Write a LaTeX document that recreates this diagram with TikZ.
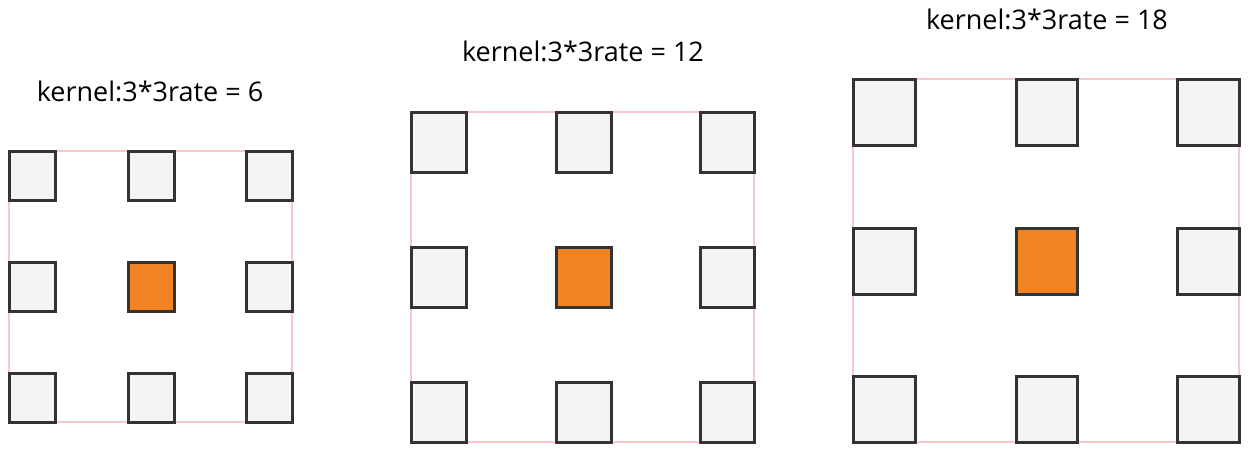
\documentclass[tikz,border=0pt]{standalone}
\usepackage{fontspec}
\setmainfont{Open Sans}
\definecolor{cellgray}{HTML}{F4F4F4}
\definecolor{cellorange}{HTML}{F28322}
\definecolor{framepink}{HTML}{F8C8CC}
\definecolor{celledge}{HTML}{333333}
\begin{document}
\begin{tikzpicture}[x=1pt,y=-1pt,
  frm/.style={draw=framepink,line width=1.8pt},
  cell/.style={draw=celledge,fill=cellgray,line width=3pt},
  ctr/.style={draw=celledge,fill=cellorange,line width=3pt},
  ttl/.style={font=\fontsize{27}{30}\selectfont,inner sep=0pt}]
\useasboundingbox (0,0) rectangle (1255,456);
% panel 1
\draw[frm] (9,151) rectangle (292,422);
\foreach \x/\xx in {9/55,128/174,246/292}{
 \foreach \y/\yy in {151/200,262/311,373/422}{
  \draw[cell] (\x,\y) rectangle (\xx,\yy);}}
\draw[ctr] (128,262) rectangle (174,311);
\node[ttl] (t1) at (150,91) {kernel:3*3rate = 6};
% panel 2
\draw[frm] (411,112) rectangle (754,442);
\foreach \x/\xx in {411/466,556/611,700/754}{
 \foreach \y/\yy in {112/172,247/307,382/442}{
  \draw[cell] (\x,\y) rectangle (\xx,\yy);}}
\draw[ctr] (556,247) rectangle (611,307);
\node[ttl] (t2) at (583,51) {kernel:3*3rate = 12};
% panel 3
\draw[frm] (853,79) rectangle (1239,442);
\foreach \x/\xx in {853/915,1016/1077,1177/1239}{
 \foreach \y/\yy in {79/145,228/294,376/442}{
  \draw[cell] (\x,\y) rectangle (\xx,\yy);}}
\draw[ctr] (1016,228) rectangle (1077,294);
\node[ttl] (t3) at (1047,19) {kernel:3*3rate = 18};
\end{tikzpicture}
\end{document}
